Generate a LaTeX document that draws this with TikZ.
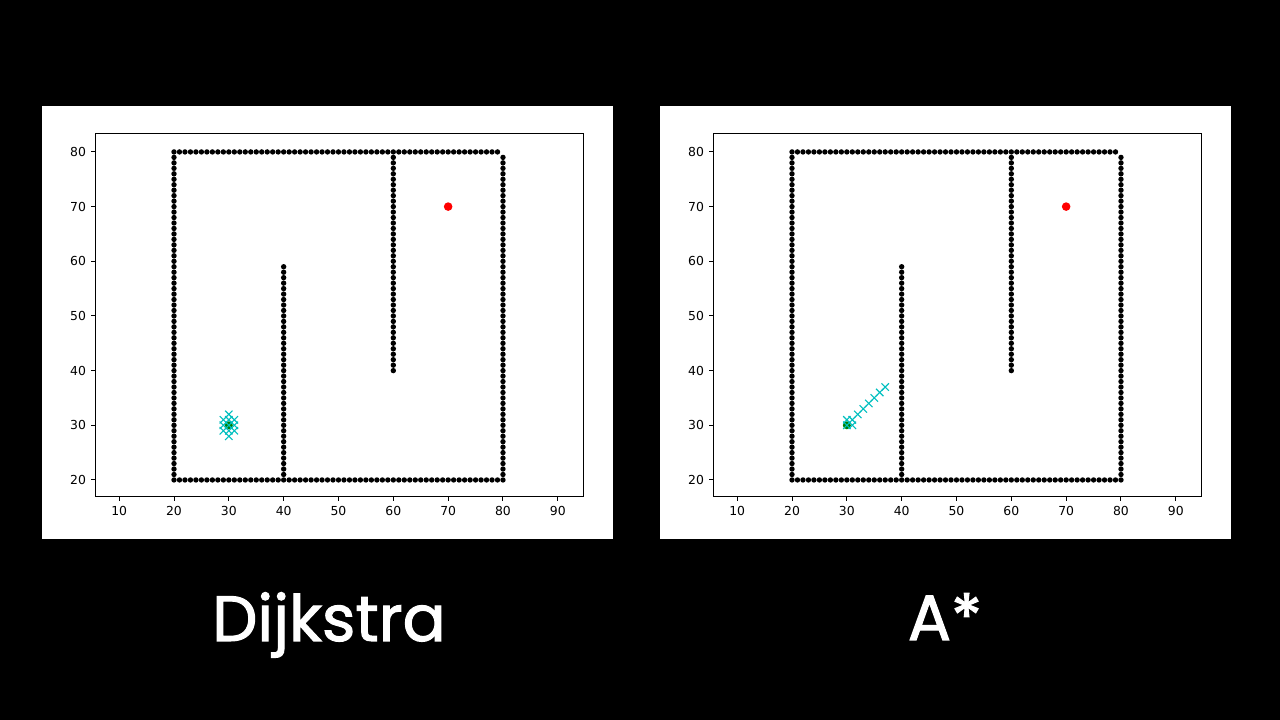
\documentclass[tikz,border=0pt]{standalone}
\usepackage{fontspec}
\usepackage{tikz}
\newfontfamily\tickfont{DejaVu Sans}
\newfontfamily\titlefont{Poppins}[RawFeature={embolden=1.6}]
\definecolor{crosscyan}{rgb}{0,0.75,0.75}
\definecolor{startgreen}{rgb}{0,0.5,0}
\definecolor{goalred}{rgb}{1,0,0}
\tikzset{
  panel/.style={fill=white},
  frame/.style={line width=1pt},
  tickmark/.style={line width=1pt},
  ticklabel/.style={inner sep=0pt, font=\tickfont\fontsize{12.4}{14}\selectfont},
  obstacle/.style={fill=black},
  crossmark/.style={draw=crosscyan, line width=1.1pt},
  title/.style={anchor=base, text=white, inner sep=0pt, font=\titlefont\fontsize{64}{70}\selectfont}
}

\begin{document}
\begin{tikzpicture}[x=1pt, y=1pt]
  \useasboundingbox (0,0) rectangle (1280,720);
  \fill[black] (0,0) rectangle (1280,720);
  % two plot panels, same maze
  \foreach \p/\n in {0/dij,618/astar}{
    \fill[panel] (42+\p,181) rectangle (613+\p,614);
    \begin{scope}[shift={(64.34+\p,130.7)}, x=5.483pt, y=5.467pt]
      \draw[frame] (5.6,16.9) rectangle (94.6,83.3);
      \foreach \t in {10,20,...,90}
        \draw[tickmark] (\t,16.9) -- ++(0pt,-4.3pt)
          node[ticklabel, anchor=north, yshift=-4.3pt] (\n x\t) {\t};
      \foreach \t in {20,30,...,80}
        \draw[tickmark] (5.6,\t) -- ++(-4.3pt,0pt)
          node[ticklabel, anchor=east, xshift=-4.3pt] (\n y\t) {\t};
      % walls
      \foreach \x in {20,...,80} \fill[obstacle] (\x,20) circle (2.7pt);
      \foreach \x in {20,...,79} \fill[obstacle] (\x,80) circle (2.7pt);
      \foreach \y in {21,...,79} \fill[obstacle] (20,\y) circle (2.7pt);
      \foreach \y in {21,...,79} \fill[obstacle] (80,\y) circle (2.7pt);
      \foreach \y in {21,...,59} \fill[obstacle] (40,\y) circle (2.7pt);
      \foreach \y in {40,...,79} \fill[obstacle] (60,\y) circle (2.7pt);
      % start and goal
      \fill[startgreen] (30,30) circle (4pt);
      \fill[goalred] (70,70) circle (4.3pt);
    \end{scope}
  }
  % visited cells, Dijkstra
  \begin{scope}[shift={(64.34,130.7)}, x=5.483pt, y=5.467pt]
    \foreach \cx/\cy in {30/32,29/31,30/31,31/31,29/30,30/30,31/30,29/29,30/29,31/29,30/28}
      \draw[crossmark] (\cx,\cy) +(-3.7pt,-3.7pt) -- +(3.7pt,3.7pt) +(-3.7pt,3.7pt) -- +(3.7pt,-3.7pt);
  \end{scope}
  % visited cells, A*
  \begin{scope}[shift={(682.34,130.7)}, x=5.483pt, y=5.467pt]
    \foreach \cx/\cy in {30/30,31/30,30/31,31/31,32/32,33/33,34/34,35/35,36/36,37/37}
      \draw[crossmark] (\cx,\cy) +(-3.7pt,-3.7pt) -- +(3.7pt,3.7pt) +(-3.7pt,3.7pt) -- +(3.7pt,-3.7pt);
  \end{scope}
  \node[title] (dijkstra) at (329,79) {Dijkstra};
  \node[title] (astar) at (945,80) {A*};
\end{tikzpicture}
\end{document}
